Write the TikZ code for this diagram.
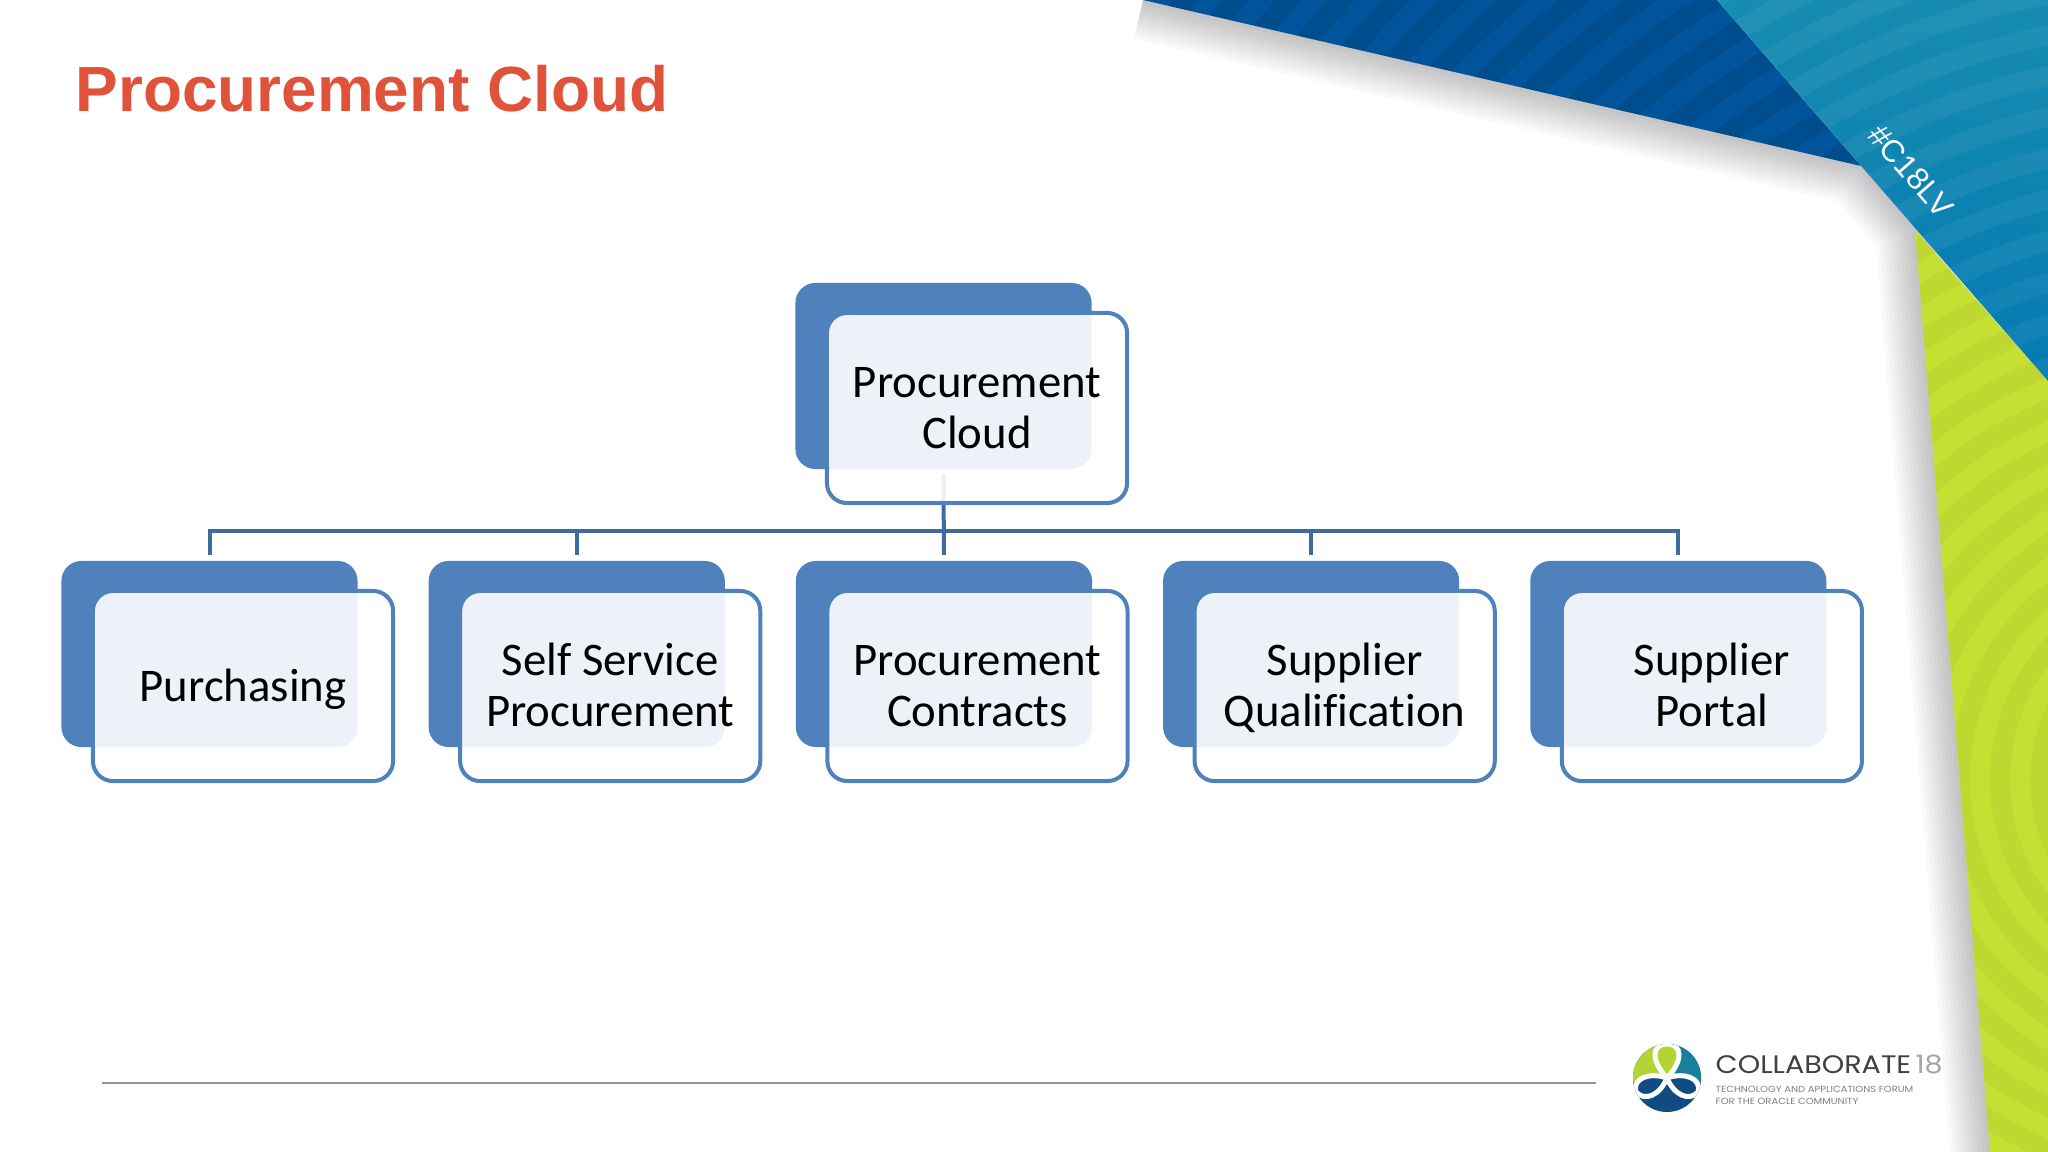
\documentclass[tikz,border=0pt]{standalone}
\usepackage{fontspec}
\setmainfont[Ligatures=NoCommon]{Carlito}
\newfontfamily\titlefont{Liberation Sans}
\newfontfamily\logofont[FakeStretch=1.13]{Poppins}
\usetikzlibrary{positioning, arrows.meta}
\newcommand{\topstrut}{\rule{0pt}{13pt}}
\definecolor{boxblue}{HTML}{4F81BD}
\definecolor{linkblue}{HTML}{3E6C9E}
\definecolor{titlered}{HTML}{E0533A}
\definecolor{logogreen}{HTML}{B5D334}
\definecolor{logoteal}{HTML}{1A7F9F}
\definecolor{logonavy}{HTML}{0F4C81}
\tikzset{
  backbox/.style={fill=boxblue,rounded corners=0.2cm,minimum width=2.96cm,minimum height=1.86cm,inner sep=0pt,outer sep=0pt},
  frontbox/.style={draw=boxblue,line width=0.04cm,fill=white,fill opacity=.9,text opacity=1,rounded corners=0.2cm,minimum width=3cm,minimum height=1.9cm,align=center,font=\fontsize{13.3}{14.6}\selectfont,xshift=0.335cm,yshift=-0.32cm,outer sep=0pt},
  link/.style={draw=linkblue,line width=0.04cm},
  ribbonring/.style={line width=0.2cm}
}
\begin{document}
\begin{tikzpicture}[x=0.01cm,y=-0.01cm]
  \useasboundingbox (0,0) rectangle (2048,1152);
  \fill[white] (0,0) rectangle (2048,1152);
  % shadow under the ribbons
  \foreach \w in {8,16,...,80}
    \draw[black,opacity=.022,line width=\w*0.01cm,line join=round] (1143,0) -- (1861,166) -- (1915,230) -- (1990,1152);
  % ribbons
  \begin{scope}
    \clip (1915,230) -- (1990,1152) -- (2048,1152) -- (2048,381) -- cycle;
    \fill[color={rgb,255:red,197;green,224;blue,51}] (1850,200) rectangle (2048,1152);
    \foreach \r in {40,80,...,1320}
      \draw[black,opacity=.035,ribbonring] (2200,780) circle[radius=\r];
  \end{scope}
  \begin{scope}
    \clip (1143,0) -- (1717,0) -- (1861,166) -- cycle;
    \fill[color={rgb,255:red,0;green,84;blue,155}] (1143,0) rectangle (1861,166);
    \foreach \r in {40,80,...,1320}
      \draw[black,opacity=.08,ribbonring] (2200,780) circle[radius=\r];
  \end{scope}
  \begin{scope}
    \clip (1717,0) -- (2048,0) -- (2048,381) -- cycle;
    \shade[top color={rgb,255:red,22;green,140;blue,178},bottom color={rgb,255:red,4;green,122;blue,178}] (1717,0) rectangle (2048,381);
    \foreach \r in {40,80,...,1320}
      \draw[white,opacity=.05,ribbonring] (2200,780) circle[radius=\r];
  \end{scope}
  \node[rotate=-49,text=white,font=\titlefont\fontsize{8.9}{10}\selectfont] (tag) at (1911,171) {\#C18LV};

  \node[anchor=base west,inner sep=0pt,text=titlered,font=\titlefont\bfseries\fontsize{18.16}{20}\selectfont] (title) at (75,112) {Procurement Cloud};

  \node[backbox] (rootback) at (943.5,376) {};
  \node[backbox] (purchback) at (209.5,654) {};
  \node[backbox,right=0.71cm of purchback] (selfback) {};
  \node[backbox,right=0.71cm of selfback] (contractback) {};
  \node[backbox,right=0.71cm of contractback] (qualback) {};
  \node[backbox,right=0.71cm of qualback] (portalback) {};

  % bus and drops go under the front boxes
  \coordinate (bus) at (943.5,531);
  \draw[link,shorten <=0.05cm,shorten >=0.06cm] (rootback.south) -- (contractback.north);
  \foreach \n in {purchback,selfback,qualback,portalback}
    \draw[link,shorten >=0.06cm] (bus) -| (\n.north);

  \node[frontbox] (root) at (rootback) {\topstrut Procurement\\Cloud\strut};
  \node[frontbox] (purch) at (purchback) {\topstrut Purchasing\strut};
  \node[frontbox] (self) at (selfback) {\topstrut Self Service\\Procurement\strut};
  \node[frontbox] (contract) at (contractback) {\topstrut Procurement\\Contracts\strut};
  \node[frontbox] (qual) at (qualback) {\topstrut Supplier\\Qualification\strut};
  \node[frontbox] (portal) at (portalback) {\topstrut Supplier\\Portal\strut};

  \coordinate (rulestart) at (102,1083);
  \coordinate (ruleend) at (1596,1083);
  \draw[color={rgb,255:red,150;green,150;blue,150},line width=0.015cm] (rulestart) -- (ruleend);

  % logo
  \begin{scope}
    \clip (1667,1078) circle[radius=34];
    \fill[logonavy] (1630,1040) rectangle (1704,1115);
    \fill[logogreen] (1630,1040) rectangle (1667,1082);
    \fill[logoteal] (1667,1040) rectangle (1704,1082);
    \draw[white,line width=0.05cm,fill=logonavy,line join=round] (1667,1078) .. controls (1650,1072) and (1632,1078) .. (1636,1092) .. controls (1645,1102) and (1660,1095) .. (1667,1078);
    \draw[white,line width=0.05cm,fill=logonavy,line join=round] (1667,1078) .. controls (1684,1072) and (1702,1078) .. (1698,1092) .. controls (1689,1102) and (1674,1095) .. (1667,1078);
    \draw[white,line width=0.05cm,fill=logogreen,line join=round] (1667,1078) .. controls (1650,1060) and (1652,1044) .. (1667,1044) .. controls (1682,1044) and (1684,1060) .. (1667,1078);
  \end{scope}
  \node[anchor=base west,inner sep=0pt,text=black!75,font=\logofont\fontsize{7.2}{8}\selectfont] (logoname) at (1715,1073) {COLLABORATE};
  \node[inner sep=0pt,text=black!35,font=\logofont\fontsize{7.2}{8}\selectfont,right=0.03cm of logoname.base east,anchor=base west] (logoyear) {18};
  \node[anchor=base west,inner sep=0pt,text=black!50,font=\logofont\fontsize{2.52}{3}\selectfont] (logoline) at (1715,1092) {TECHNOLOGY AND APPLICATIONS FORUM};
  \node[anchor=base west,inner sep=0pt,text=black!50,font=\logofont\fontsize{2.52}{3}\selectfont] (logolinetwo) at (1715,1104) {FOR THE ORACLE COMMUNITY};
\end{tikzpicture}
\end{document}
